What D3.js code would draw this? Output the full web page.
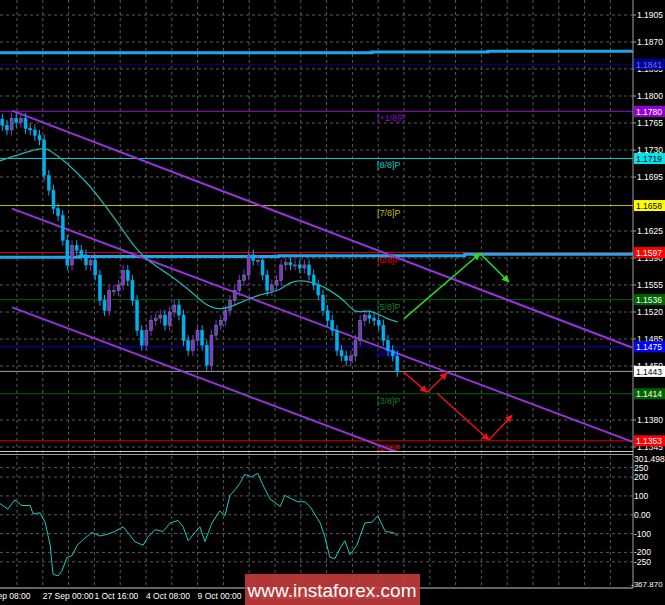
<!DOCTYPE html>
<html><head><meta charset="utf-8">
<script src="https://cdn.jsdelivr.net/npm/d3@7"></script>
<style>body{margin:0;background:#000}svg{display:block}</style>
</head><body>
<svg id="c" width="665" height="605"></svg>
<script>
// ---- data ----
const closes = [1.1762,1.1756,1.1771,1.1766,1.1771,1.1758,1.1756,1.1749,1.1743,1.1697,1.1678,1.1654,1.1645,1.1613,1.1581,1.1606,1.1600,1.1594,1.1581,1.1587,1.1568,1.1535,1.1522,1.1548,1.1548,1.1555,1.1574,1.1561,1.1535,1.1496,1.1477,1.1496,1.1509,1.1512,1.1516,1.1503,1.1520,1.1529,1.1516,1.1483,1.1470,1.1483,1.1496,1.1477,1.1451,1.1490,1.1503,1.1509,1.1522,1.1535,1.1548,1.1561,1.1568,1.1594,1.1587,1.1587,1.1568,1.1548,1.1555,1.1561,1.1581,1.1584,1.1581,1.1581,1.1577,1.1581,1.1568,1.1555,1.1542,1.1522,1.1509,1.1496,1.1470,1.1463,1.1457,1.1463,1.1483,1.1509,1.1516,1.1512,1.1509,1.1503,1.1483,1.1470,1.1463,1.1443];
const firstOpen = 1.1770;
const maPts = [[0,1.1716],[6.5,1.1729],[9.7,1.1733],[10.8,1.1729],[14,1.1716],[19.4,1.1684],[22.6,1.1658],[25.8,1.1632],[29,1.1603],[32.3,1.1584],[36.6,1.1568],[40.9,1.1548],[44.1,1.1529],[47.3,1.1522],[50.6,1.1529],[53.8,1.1538],[57,1.1544],[60.3,1.1548],[62.4,1.1559],[64.6,1.1561],[66.7,1.1559],[68.9,1.1555],[71,1.1548],[74.2,1.1535],[76.4,1.1518],[78.5,1.1522],[80.7,1.1520],[82.9,1.1512],[85.6,1.1507]];
const blueLow = [[0,1.1591],[17,1.1592],[60,1.1593],[100,1.1595],[136,1.1597]];
const blueHigh = [[0,1.1856],[80,1.1857],[105,1.1858],[136,1.1859]];
const levels = [
 {p:1.1841,c:"#00008b",tag:"#00008b",tc:"#6f6fff",lab:""},
 {p:1.1780,c:"#9400d3",tag:"#9400d3",tc:"#fff",lab:"[+1/8]P"},
 {p:1.1719,c:"#00ced1",tag:"#00e5ee",tc:"#000",lab:"[8/8]P"},
 {p:1.1658,c:"#bdbd00",tag:"#ffff00",tc:"#000",lab:"[7/8]P"},
 {p:1.1597,c:"#e00000",tag:"#ff0000",tc:"#fff",lab:"[6/8]P"},
 {p:1.1536,c:"#006400",tag:"#006400",tc:"#fff",lab:"[5/8]P"},
 {p:1.1475,c:"#0000cd",tag:"#0000ff",tc:"#fff",lab:"[4/8]P"},
 {p:1.1443,c:"#a0a0a0",tag:"#ffffff",tc:"#000",lab:""},
 {p:1.1414,c:"#006400",tag:"#006400",tc:"#fff",lab:"[3/8]P"},
 {p:1.1353,c:"#e00000",tag:"#ff0000",tc:"#fff",lab:"[2/8]P"}];
const priceTicks = [1.1905,1.1870,1.1835,1.1800,1.1765,1.1730,1.1695,1.1625,1.1590,1.1555,1.1520,1.1485,1.1450,1.1380,1.1345];
const channels = [[[2.6,1.1781],[136,1.1474]],[[2.6,1.1654],[136,1.1352]],[[2.6,1.1526],[136,1.1224]]];
const greenArrow = [[86.9,1.1511],[103.3,1.1596],[109.5,1.1559]];
const redArrow1 = [[86.9,1.1442],[91.9,1.1416],[96.2,1.1441]];
const redArrow2 = [[94.0,1.1415],[105.2,1.1354],[110.2,1.1386]];
const cci = [[0,59],[1.7,30],[3.2,79],[4.7,49],[6.5,49],[7.1,5],[8.6,10],[9.7,-39],[10.8,-162],[11.4,-315],[12.5,-325],[13.3,-300],[14.4,-227],[15.5,-217],[16.6,-162],[18.3,-123],[19.8,-94],[21.5,-113],[23.2,-103],[24.7,-89],[26.5,-64],[27.5,-94],[29,-143],[30.8,-162],[31.8,-118],[33.4,-79],[35.1,-89],[36.6,-44],[38.3,-30],[39.4,-64],[40.5,-138],[42,-94],[43,-64],[44.1,-143],[45.6,-44],[47.3,20],[48.4,-5],[49.5,103],[50.6,133],[51.6,167],[52.7,215],[54,200],[55.5,220],[56.4,167],[58.1,84],[60.3,44],[61.3,103],[62.8,84],[64.1,69],[65.6,69],[66.7,44],[68.9,-44],[69.9,-118],[71,-227],[72.1,-232],[73.2,-177],[74.2,-138],[75.3,-212],[76.8,-162],[78.5,-44],[80.1,-39],[81.3,-5],[82.9,-89],[84.6,-94],[85.6,-113]];
const cciTicks = [250,200,100,0,-100,-200,-250];
const dateLabels = ["26 Sep 08:00","27 Sep 00:00","1 Oct 16:00","4 Oct 08:00","9 Oct 00:00","11 Oct 16:00","16 Oct 08:00","19 Oct 00:00"];

// ---- scales ----
const svg = d3.select("#c");
const W = 633;
const x = d3.scaleLinear().domain([0,136]).range([0,632]);
const y = d3.scaleLinear().domain([1.1345,1.1905]).range([447,15]);
const yc = d3.scaleLinear().domain([-367.87,301.498]).range([584,458]);
const font = "Liberation Sans, Arial, sans-serif";
const fs = 8.5;

const defs = svg.append("defs");
defs.append("clipPath").attr("id","mc").append("rect").attr("x",0).attr("y",0).attr("width",W).attr("height",451);
defs.append("clipPath").attr("id","ic").append("rect").attr("x",0).attr("y",454).attr("width",W).attr("height",134);
[["ag","#22dd22"],["ar","#ee1111"]].forEach(([id,c])=>{
  defs.append("marker").attr("id",id).attr("viewBox","0 0 10 10").attr("refX",9).attr("refY",5)
   .attr("markerWidth",5).attr("markerHeight",5).attr("orient","auto")
   .append("path").attr("d","M0,0L10,5L0,10z").attr("fill",c);
});

// grid
const vGrid = d3.range(17,W,25.8);
const g = svg.append("g").attr("stroke","#5a5a5a").attr("stroke-dasharray","3,3").attr("stroke-width",1);
vGrid.forEach(v=>g.append("line").attr("x1",v).attr("x2",v).attr("y1",0).attr("y2",588));
priceTicks.forEach(p=>g.append("line").attr("x1",0).attr("x2",W).attr("y1",y(p)).attr("y2",y(p)));
cciTicks.forEach(p=>g.append("line").attr("x1",0).attr("x2",W).attr("y1",yc(p)).attr("y2",yc(p)));

const main = svg.append("g").attr("clip-path","url(#mc)");
levels.forEach(l=>{
  main.append("line").attr("x1",0).attr("x2",W).attr("y1",y(l.p)).attr("y2",y(l.p)).attr("stroke",l.c).attr("stroke-width",1);
  if(l.lab) main.append("text").attr("x",377).attr("y",y(l.p)+10).attr("fill",l.c==="#006400"?"#1f7a1f":l.c).attr("font-size",9).attr("font-family",font).text(l.lab);
});
const line = d3.line().x(d=>x(d[0])).y(d=>y(d[1]));
main.append("path").attr("d",d3.line().x(d=>x(d[0])).y(d=>y(d[1])).curve(d3.curveStepAfter)(blueLow)).attr("fill","none").attr("stroke","#1ea7ee").attr("stroke-width",3);
main.append("path").attr("d",d3.line().x(d=>x(d[0])).y(d=>y(d[1])).curve(d3.curveStepAfter)(blueHigh)).attr("fill","none").attr("stroke","#1ea7ee").attr("stroke-width",3);
channels.forEach(c=>main.append("path").attr("d",line(c)).attr("stroke","#9932e0").attr("stroke-width",2).attr("fill","none"));
const bw = 3;
closes.forEach((c,i)=>{
  const o = i===0?firstOpen:closes[i-1];
  const up = c>=o;
  const col = up?"#9b1fe8":"#00b0f0";
  const hi = Math.max(o,c)+0.0007, lo = Math.min(o,c)-0.0007;
  const cx = x(i+0.5);
  main.append("line").attr("x1",cx).attr("x2",cx).attr("y1",y(hi)).attr("y2",y(lo)).attr("stroke",col);
  main.append("rect").attr("x",cx-bw/2).attr("width",bw).attr("y",y(Math.max(o,c))).attr("height",Math.max(1,Math.abs(y(o)-y(c))))
   .attr("fill",col).attr("stroke",up?"#22cc44":"#00b0f0").attr("stroke-width",0.5);
});
main.append("path").attr("d",d3.line().x(d=>x(d[0])).y(d=>y(d[1])).curve(d3.curveBasis)(maPts)).attr("fill","none").attr("stroke","#20b2aa").attr("stroke-width",1.3);
function arrow(pts,id,c){
  for(let i=0;i<pts.length-1;i++){
    main.append("line").attr("x1",x(pts[i][0])).attr("y1",y(pts[i][1])).attr("x2",x(pts[i+1][0])).attr("y2",y(pts[i+1][1]))
     .attr("stroke",c).attr("stroke-width",1.5).attr("marker-end",`url(#${id})`);
  }
}
arrow(greenArrow,"ag","#22dd22");arrow(redArrow1,"ar","#ee1111");arrow(redArrow2,"ar","#ee1111");

const ind = svg.append("g").attr("clip-path","url(#ic)");
ind.append("path").attr("d",d3.line().x(d=>x(d[0])).y(d=>yc(d[1]))(cci)).attr("fill","none").attr("stroke","#20c8c0").attr("stroke-width",1);

svg.append("line").attr("x1",W).attr("x2",W).attr("y1",0).attr("y2",588).attr("stroke","#a0a0a0");
svg.append("line").attr("x1",0).attr("x2",W).attr("y1",451.5).attr("y2",451.5).attr("stroke","#c8c8c8");
svg.append("line").attr("x1",0).attr("x2",W).attr("y1",454.5).attr("y2",454.5).attr("stroke","#a0a0a0");
svg.append("line").attr("x1",0).attr("x2",W).attr("y1",588).attr("y2",588).attr("stroke","#c8c8c8");

const ax = svg.append("g").attr("font-family",font).attr("font-size",fs).attr("fill","#fff");
priceTicks.forEach(p=>{
  ax.append("line").attr("x1",W).attr("x2",W+3).attr("y1",y(p)).attr("y2",y(p)).attr("stroke","#a0a0a0");
  ax.append("text").attr("x",W+4).attr("y",y(p)+3).text(p.toFixed(4));
});
levels.forEach(l=>{
  ax.append("rect").attr("x",W+1).attr("y",y(l.p)-5.5).attr("width",31).attr("height",11).attr("fill",l.tag);
  ax.append("text").attr("x",W+3).attr("y",y(l.p)+3.5).attr("fill",l.tc).text(l.p.toFixed(4));
});
cciTicks.forEach(p=>{
  ax.append("text").attr("x",W+1).attr("y",yc(p)+3).text(p===0?"0.00":p);
});
ax.append("text").attr("x",W+1).attr("y",462).text("301.498");
ax.append("text").attr("x",W-2).attr("y",587).attr("font-size",8).text("-367.870");

dateLabels.forEach((t,i)=>{
  svg.append("text").attr("x",i===0?-20:vGrid[1]+(i-1)*2*25.8).attr("y",599).attr("fill","#fff").attr("font-family",font).attr("font-size",fs).text(t);
});
svg.append("rect").attr("x",245).attr("y",574).attr("width",175).attr("height",31).attr("fill","#c43c3c").attr("opacity",0.9);
svg.append("text").attr("x",332).attr("y",597).attr("text-anchor","middle").attr("fill","#fff").attr("font-family","Arial, Liberation Sans, sans-serif").attr("font-size",19).text("www.instaforex.com");
</script></body></html>
